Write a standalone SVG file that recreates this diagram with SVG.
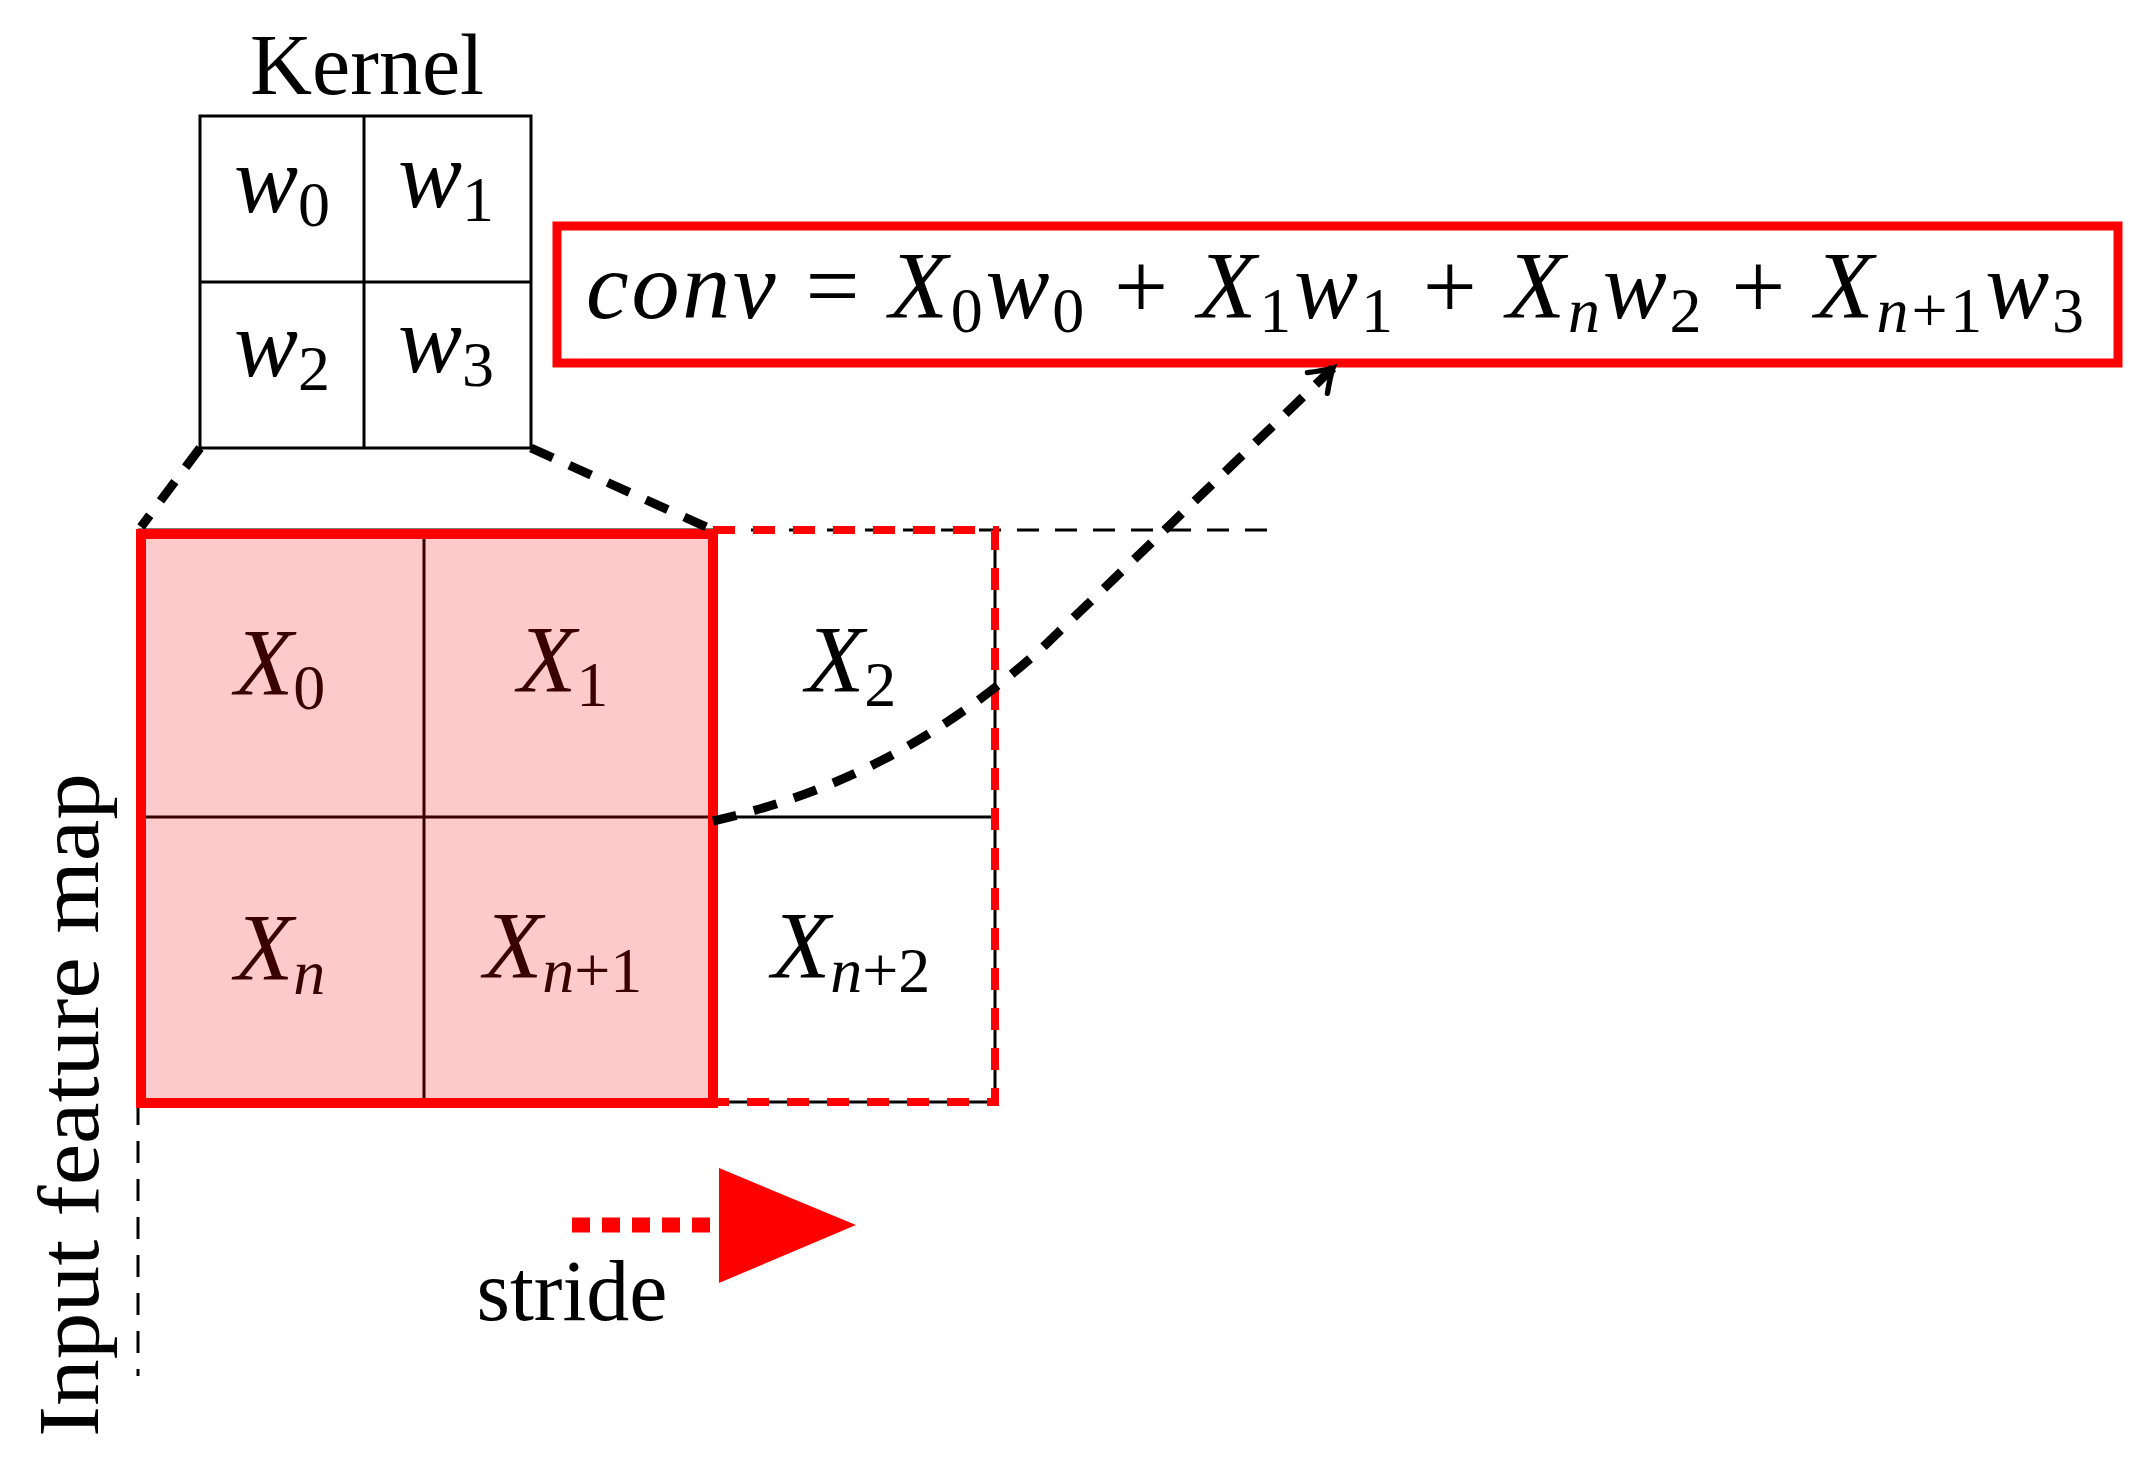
<svg xmlns="http://www.w3.org/2000/svg" width="2136" height="1460" viewBox="0 0 2136 1460">
<style>
text{font-family:"Liberation Serif","DejaVu Serif",serif;fill:#000}
.m{font-style:italic;font-size:96px}
.s{font-style:normal;font-size:64px}
.si{font-style:italic;font-size:64px}
.d{fill:#3a0000}
.thin{fill:none;stroke:#000;stroke-width:3}
.dash{fill:none;stroke:#000;stroke-width:9;stroke-dasharray:24,18}
</style>
<defs>
<marker id="hook" viewBox="0 0 20 20" refX="14" refY="10" markerWidth="4" markerHeight="4" orient="auto" markerUnits="strokeWidth">
<path d="M2,2 Q10,8 14,10 Q10,12 2,18" fill="none" stroke="#000" stroke-width="3" stroke-linecap="round"/>
</marker>
</defs>
<g id="kernel">
<text x="367" y="94" text-anchor="middle" font-size="86">Kernel</text>
<rect x="200" y="116" width="331" height="332" class="thin"/>
<line x1="364" y1="116" x2="364" y2="448" class="thin"/>
<line x1="200" y1="282" x2="531" y2="282" class="thin"/>
<text x="282" y="212" text-anchor="middle" class="m">w<tspan class="s" dy="14">0</tspan></text>
<text x="446" y="207" text-anchor="middle" class="m">w<tspan class="s" dy="14">1</tspan></text>
<text x="282" y="376" text-anchor="middle" class="m">w<tspan class="s" dy="14">2</tspan></text>
<text x="446" y="372" text-anchor="middle" class="m">w<tspan class="s" dy="14">3</tspan></text>
</g>
<g id="formula">
<rect x="557" y="226" width="1561" height="137" fill="none" stroke="#f00" stroke-width="9"/>
<text x="586" y="318" class="m" textLength="1498" lengthAdjust="spacing" font-size="100">conv <tspan font-style="normal">=</tspan> X<tspan class="s" dy="14">0</tspan><tspan dy="-14">w</tspan><tspan class="s" dy="14">0</tspan><tspan dy="-14" font-style="normal"> + </tspan>X<tspan class="s" dy="14">1</tspan><tspan dy="-14">w</tspan><tspan class="s" dy="14">1</tspan><tspan dy="-14" font-style="normal"> + </tspan>X<tspan class="si" dy="14">n</tspan><tspan dy="-14">w</tspan><tspan class="s" dy="14">2</tspan><tspan dy="-14" font-style="normal"> + </tspan>X<tspan class="si" dy="14">n</tspan><tspan class="s">+1</tspan><tspan dy="-14">w</tspan><tspan class="s" dy="14">3</tspan></text>
</g>
<g id="feature-map">
<rect x="141" y="534" width="572" height="569" fill="#fccaca"/>
<line x1="713" y1="530" x2="1273" y2="530" stroke="#000" stroke-width="3" stroke-dasharray="22,16"/>
<line x1="138" y1="1103" x2="138" y2="1376" stroke="#000" stroke-width="3" stroke-dasharray="22,16"/>
<line x1="138" y1="530" x2="713" y2="530" class="thin"/>
<line x1="138" y1="530" x2="138" y2="1103" class="thin"/>
<line x1="713" y1="1102" x2="995" y2="1102" class="thin"/>
<line x1="995" y1="530" x2="995" y2="1102" class="thin"/>
<line x1="424" y1="534" x2="424" y2="1103" stroke="#3a0000" stroke-width="3"/>
<line x1="141" y1="817" x2="713" y2="817" stroke="#3a0000" stroke-width="3"/>
<line x1="713" y1="817" x2="995" y2="817" class="thin"/>
<text x="280" y="695" text-anchor="middle" class="m d">X<tspan class="s" dy="14">0</tspan></text>
<text x="563" y="692" text-anchor="middle" class="m d">X<tspan class="s" dy="14">1</tspan></text>
<text x="851" y="692" text-anchor="middle" class="m">X<tspan class="s" dy="14">2</tspan></text>
<text x="280" y="980" text-anchor="middle" class="m d">X<tspan class="si" dy="14">n</tspan></text>
<text x="563" y="978" text-anchor="middle" class="m d">X<tspan class="si" dy="14">n</tspan><tspan class="s">+1</tspan></text>
<text x="851" y="978" text-anchor="middle" class="m">X<tspan class="si" dy="14">n</tspan><tspan class="s">+2</tspan></text>
<rect x="141" y="534" width="572" height="569" fill="none" stroke="#f00" stroke-width="10"/>
<rect x="713" y="530" width="282" height="572" fill="none" stroke="#f00" stroke-width="8" stroke-dasharray="22,18"/>
<text transform="translate(98,1105) rotate(-90)" text-anchor="middle" font-size="86" textLength="664" lengthAdjust="spacingAndGlyphs">Input feature map</text>
</g>
<g id="connectors">
<line x1="200" y1="448" x2="141" y2="527" class="dash"/>
<line x1="531" y1="448" x2="713" y2="530" class="dash"/>
<path d="M713,821 C850,790 950,730 1040,650 L1333,368" class="dash" marker-end="url(#hook)"/>
</g>
<g id="stride">
<line x1="572" y1="1225" x2="719" y2="1225" stroke="#f00" stroke-width="15" stroke-dasharray="18,12"/>
<polygon points="719,1168 856,1225 719,1283" fill="#f00"/>
<text x="572" y="1320" text-anchor="middle" font-size="86">stride</text>
</g>
</svg>
